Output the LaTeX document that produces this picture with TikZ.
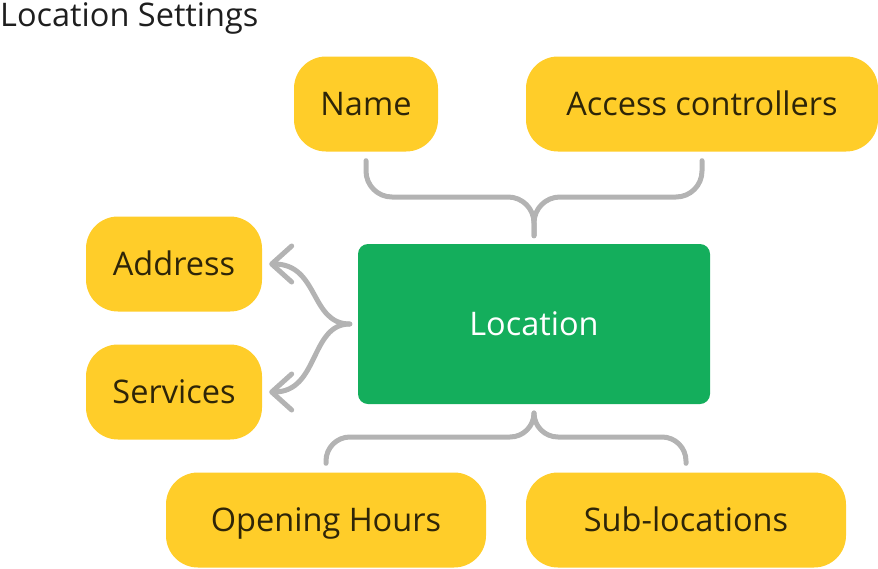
\documentclass[tikz,border=0pt]{standalone}
\usepackage{fontspec}
\setmainfont{Open Sans}
\usetikzlibrary{arrows.meta}
\definecolor{pillyellow}{HTML}{FFCD29}
\definecolor{locgreen}{HTML}{14AE5C}
\definecolor{linkgray}{HTML}{B3B3B3}
\definecolor{pilltext}{HTML}{2E2508}
\definecolor{titletext}{HTML}{1E1E1E}

\begin{document}
\begin{tikzpicture}[
  x=1pt, y=-1pt,
  pill/.style={fill=pillyellow, rounded corners=32pt, minimum height=95pt, inner sep=0pt, text height=23pt, text depth=0pt, text=pilltext, font=\fontsize{32.5}{38}\selectfont},
  locbox/.style={fill=locgreen, rounded corners=10pt, minimum width=352pt, minimum height=160pt, inner sep=0pt, text height=23pt, text depth=0pt, text=white, font=\fontsize{32.5}{38}\selectfont},
  link/.style={draw=linkgray, line width=5pt, line cap=round, line join=round},
  barb/.style={link, -{Straight Barb[round, length=20pt, width=36pt]}}
]
  \useasboundingbox (0,0) rectangle (878,568);

  \node[anchor=base west, inner sep=0pt, text=titletext, font=\fontsize{32.5}{38}\selectfont] (title) at (0,26) {Location Settings};

  % top row
  \node[pill, minimum width=144pt] (name) at (366,104) {Name};
  \node[pill, minimum width=352pt] (access) at (702,104) {Access controllers};

  % middle
  \node[locbox] (loc) at (534,324) {Location};
  \node[pill, minimum width=176pt] (address) at (174,264) {Address};
  \node[pill, minimum width=176pt] (services) at (174,392) {Services};

  % bottom row
  \node[pill, minimum width=320pt] (hours) at (326,520) {Opening Hours};
  \node[pill, minimum width=320pt] (subloc) at (686,520) {Sub-locations};

  \coordinate (topjoin) at (534,197);
  \coordinate (botjoin) at (534,437);

  % braces
  \draw[link, rounded corners=26pt] ([yshift=-9pt]name.south) |- (topjoin) -- ([yshift=8pt]loc.north);
  \draw[link, rounded corners=26pt] ([yshift=-9pt]access.south) |- (topjoin) -- ([yshift=8pt]loc.north);
  \draw[link, rounded corners=24pt] ([yshift=-9pt]loc.south) -- (botjoin) -| ([yshift=9pt]hours.north);
  \draw[link, rounded corners=24pt] ([yshift=-9pt]loc.south) -- (botjoin) -| ([yshift=9pt]subloc.north);

  % arrows to the left
  \draw[barb] ([xshift=-8pt]loc.west) .. controls +(-40,0) and +(50,0) .. ([xshift=7pt]address.east);
  \draw[barb] ([xshift=-8pt]loc.west) .. controls +(-40,0) and +(50,0) .. ([xshift=7pt]services.east);
\end{tikzpicture}
\end{document}
